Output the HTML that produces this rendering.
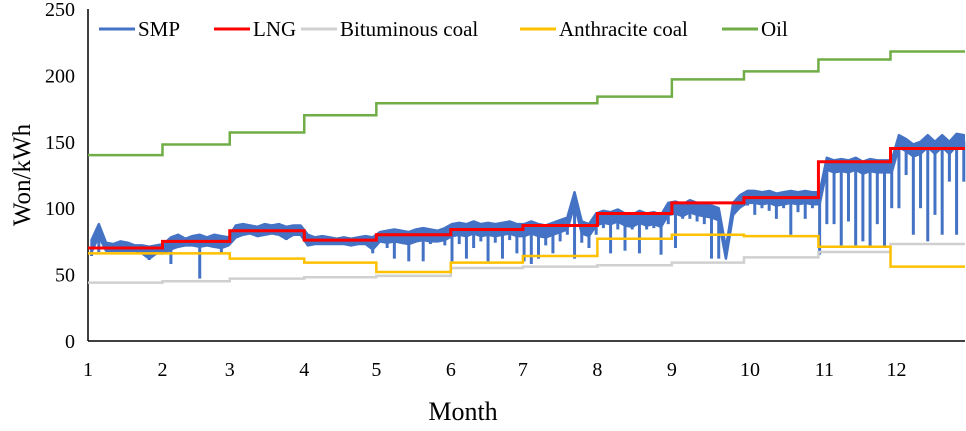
<!DOCTYPE html>
<html><head><meta charset="utf-8"><style>
body{margin:0;background:#fff;}
svg text{font-family:"Liberation Serif",serif;fill:#000;}
</style></head><body>
<svg id="chart" width="966" height="426" xmlns="http://www.w3.org/2000/svg">
<g id="axes"></g><g id="series"></g><g id="legend"></g>
</svg>
<script>
const months=["1","2","3","4","5","6","7","8","9","10","11","12"];
const monthStartDays=[0,31,59,90,120,151,181,212,243,273,304,334];
const yTicks=[0,50,100,150,200,250];
const lng=[70,75,83,76,80,84,87,96,104,108,135,145];
const bituminous=[44,45,47,48,49,55,56,57,59,63,67,73];
const anthracite=[66,66,62,59,52,59,64,77,80,79,71,56];
const oil=[140,148,157,170,179,179,179,184,197,203,212,218];
const smpHi=[76,88,74,73,75,74,72,72,71,72,73,
78,80,77,79,80,78,80,79,78,
87,88,87,86,88,87,88,86,87,87,
80,78,79,78,77,78,77,78,79,78,
82,83,84,83,82,84,85,84,83,85,
88,89,88,90,88,89,88,89,90,88,
88,90,88,87,89,91,93,112,90,88,
96,98,97,99,96,95,98,96,97,95,
104,105,103,106,104,103,102,100,70,104,
110,113,113,112,113,111,112,113,112,113,
112,112,138,136,137,136,138,135,137,136,
136,136,155,152,148,150,155,150,155,150,156,155];
const smpLo=[64,67,68,68,68,68,68,66,61,66,66,
58,70,72,72,47,72,70,66,72,
78,80,81,79,80,81,80,76,80,80,
72,73,73,73,73,73,72,73,73,66,
75,70,62,74,60,75,60,73,75,72,
60,73,62,70,75,60,74,62,76,66,
60,58,62,72,66,75,80,62,74,70,
80,85,66,84,68,84,66,84,85,65,
88,70,92,92,90,88,62,62,62,95,
100,102,95,100,98,92,100,80,97,92,
100,65,88,88,72,90,72,75,70,88,
70,100,100,125,80,100,75,95,80,120,80,120];
const X0=88,X1=965,Y0=341,Y1=9;
const x=d=>X0+d*(X1-X0)/365;
const y=v=>Y0-v*(Y0-Y1)/250;
const NS="http://www.w3.org/2000/svg";
function mk(parent,tag,attrs){const e=document.createElementNS(NS,tag);for(const k in attrs)e.setAttribute(k,attrs[k]);parent.appendChild(e);return e;}
const axes=document.getElementById('axes'),series=document.getElementById('series'),legend=document.getElementById('legend');
let e=mk(axes,'line',{x1:X0,y1:Y1,x2:X0,y2:Y0,stroke:'#000','stroke-width':1.5});


e=mk(axes,'line',{x1:X0,y1:Y0,x2:X1,y2:Y0,stroke:'#000','stroke-width':1.5});


yTicks.forEach(t=>{const tx=mk(axes,'text',{x:75,y:y(t)+7,'text-anchor':'end','font-size':20});tx.textContent=t;

});
months.forEach((m,i)=>{const off=m.length>1?6:0;const tx=mk(axes,'text',{x:x(monthStartDays[i])+off,y:376,'text-anchor':'middle','font-size':20});tx.textContent=m;

});
e=mk(axes,'text',{x:463,y:420,'text-anchor':'middle','font-size':26});e.textContent='Month';


e=mk(axes,'text',{x:0,y:0,'text-anchor':'middle','font-size':25,transform:'translate(30,175) rotate(-90)'});e.textContent='Won/kWh';


const smpG=mk(series,'g',{});


const bandTop=[],bandBot=[];
smpHi.forEach((h,i)=>{const d=Math.min(i*3+1.5,365);bandTop.push(x(d)+','+y(h));bandBot.unshift(x(d)+','+y(Math.max(smpLo[i],h-9)));});
e=mk(smpG,'polygon',{points:bandTop.concat(bandBot).join(' '),fill:'#4472C4',stroke:'#4472C4','stroke-width':2.5,'stroke-linejoin':'round'});


smpHi.forEach((h,i)=>{if(smpLo[i]<h-9){const d=Math.min(i*3+1.5,365);
const l=mk(smpG,'line',{x1:x(d),y1:y(h-5),x2:x(d),y2:y(smpLo[i]),stroke:'#4472C4','stroke-width':3});

}});
function step(arr,color,name){let p=[];arr.forEach((v,i)=>{const a=monthStartDays[i],b=i<11?monthStartDays[i+1]:365;p.push(x(a)+','+y(v));p.push(x(b)+','+y(v));});
const l=mk(series,'polyline',{points:p.join(' '),fill:'none',stroke:color,'stroke-width':name==='lng-line'?3:2.5});

}
step(bituminous,'#D0D0D0','bituminous-coal-line');
step(anthracite,'#FFC000','anthracite-coal-line');
step(lng,'#FF0000','lng-line');
step(oil,'#70AD47','oil-line');
const leg=[['SMP','#4472C4',99],['LNG','#FF0000',214],['Bituminous coal','#D0D0D0',301],['Anthracite coal','#FFC000',520],['Oil','#70AD47',722]];
leg.forEach(([t,c,lx])=>{const g=mk(legend,'g',{});


mk(g,'line',{x1:lx,y1:29,x2:lx+36,y2:29,stroke:c,'stroke-width':3});
const tx=mk(g,'text',{x:lx+39,y:36,'font-size':21});tx.textContent=t;});
</script>
</body></html>
